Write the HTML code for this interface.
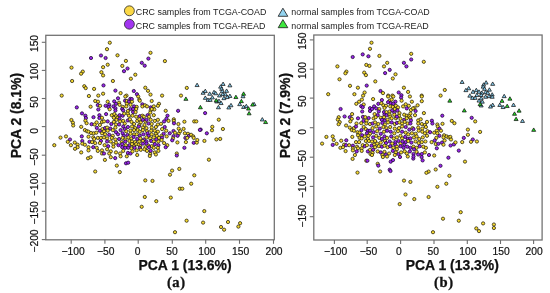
<!DOCTYPE html>
<html><head><meta charset="utf-8"><style>
html,body{margin:0;padding:0;background:#fff;}
svg{display:block;font-family:"Liberation Sans", sans-serif;will-change:transform;filter:blur(0.25px);}
.pts circle{stroke-width:0.8;}
.pts .cy{fill:#f6da30;stroke:#2e2810;}
.pts .cp{fill:#9a26ec;stroke:#220838;}
.pts polygon{stroke:#111;stroke-width:0.75;stroke-linejoin:miter;}
</style></head><body>
<svg width="550" height="293" viewBox="0 0 550 293">
<rect width="550" height="293" fill="#fff"/>
<circle cx="129.4" cy="10.8" r="4.95" fill="#fbd846" stroke="#2a2a2a" stroke-width="0.8"/>
<circle cx="129.4" cy="24.2" r="4.95" fill="#a235f0" stroke="#2a2a2a" stroke-width="0.8"/>
<polygon points="282.9,8.2 278.2,16.3 287.8,16.3" fill="#94d4f0" stroke="#222" stroke-width="0.85" stroke-linejoin="round"/>
<polygon points="282.9,19.6 278.2,27.7 287.8,27.7" fill="#3ee83e" stroke="#222" stroke-width="0.85" stroke-linejoin="round"/>
<text x="135.8" y="15.1" font-size="8.9" fill="#222">CRC samples from TCGA-COAD</text>
<text x="135.8" y="28.5" font-size="8.9" fill="#222">CRC samples from TCGA-READ</text>
<text x="291.3" y="15.1" font-size="8.9" fill="#222">normal samples from TCGA-COAD</text>
<text x="291.3" y="28.5" font-size="8.9" fill="#222">normal samples from TCGA-READ</text>
<rect x="45.8" y="35.3" width="228.50" height="204.50" fill="none" stroke="#6e6e6e" stroke-width="1.25"/>
<line x1="71.20" y1="239.8" x2="71.20" y2="243.80" stroke="#6e6e6e" stroke-width="1.1"/>
<text x="73.20" y="254.8" font-size="10.3" stroke="#111" stroke-width="0.2" text-anchor="middle" fill="#111">−100</text>
<line x1="104.90" y1="239.8" x2="104.90" y2="243.80" stroke="#6e6e6e" stroke-width="1.1"/>
<text x="105.70" y="254.8" font-size="10.3" stroke="#111" stroke-width="0.2" text-anchor="middle" fill="#111">−50</text>
<line x1="138.20" y1="239.8" x2="138.20" y2="243.80" stroke="#6e6e6e" stroke-width="1.1"/>
<text x="137.50" y="254.8" font-size="10.3" stroke="#111" stroke-width="0.2" text-anchor="middle" fill="#111">0</text>
<line x1="172.30" y1="239.8" x2="172.30" y2="243.80" stroke="#6e6e6e" stroke-width="1.1"/>
<text x="172.10" y="254.8" font-size="10.3" stroke="#111" stroke-width="0.2" text-anchor="middle" fill="#111">50</text>
<line x1="205.70" y1="239.8" x2="205.70" y2="243.80" stroke="#6e6e6e" stroke-width="1.1"/>
<text x="206.90" y="254.8" font-size="10.3" stroke="#111" stroke-width="0.2" text-anchor="middle" fill="#111">100</text>
<line x1="239.50" y1="239.8" x2="239.50" y2="243.80" stroke="#6e6e6e" stroke-width="1.1"/>
<text x="240.70" y="254.8" font-size="10.3" stroke="#111" stroke-width="0.2" text-anchor="middle" fill="#111">150</text>
<line x1="273.50" y1="239.8" x2="273.50" y2="243.80" stroke="#6e6e6e" stroke-width="1.1"/>
<text x="274.00" y="254.8" font-size="10.3" stroke="#111" stroke-width="0.2" text-anchor="middle" fill="#111">200</text>
<line x1="41.80" y1="42.30" x2="45.8" y2="42.30" stroke="#6e6e6e" stroke-width="1.1"/>
<text transform="translate(37.80,43.50) rotate(-90)" font-size="10.3" stroke="#111" stroke-width="0.2" text-anchor="middle" fill="#111">150</text>
<line x1="41.80" y1="70.40" x2="45.8" y2="70.40" stroke="#6e6e6e" stroke-width="1.1"/>
<text transform="translate(37.80,71.40) rotate(-90)" font-size="10.3" stroke="#111" stroke-width="0.2" text-anchor="middle" fill="#111">100</text>
<line x1="41.80" y1="98.50" x2="45.8" y2="98.50" stroke="#6e6e6e" stroke-width="1.1"/>
<text transform="translate(37.80,101.90) rotate(-90)" font-size="10.3" stroke="#111" stroke-width="0.2" text-anchor="middle" fill="#111">50</text>
<line x1="41.80" y1="126.60" x2="45.8" y2="126.60" stroke="#6e6e6e" stroke-width="1.1"/>
<text transform="translate(37.80,131.00) rotate(-90)" font-size="10.3" stroke="#111" stroke-width="0.2" text-anchor="middle" fill="#111">0</text>
<line x1="41.80" y1="155.20" x2="45.8" y2="155.20" stroke="#6e6e6e" stroke-width="1.1"/>
<text transform="translate(37.80,157.10) rotate(-90)" font-size="10.3" stroke="#111" stroke-width="0.2" text-anchor="middle" fill="#111">−50</text>
<line x1="41.80" y1="183.30" x2="45.8" y2="183.30" stroke="#6e6e6e" stroke-width="1.1"/>
<text transform="translate(37.80,184.40) rotate(-90)" font-size="10.3" stroke="#111" stroke-width="0.2" text-anchor="middle" fill="#111">−100</text>
<line x1="41.80" y1="211.30" x2="45.8" y2="211.30" stroke="#6e6e6e" stroke-width="1.1"/>
<text transform="translate(37.80,212.90) rotate(-90)" font-size="10.3" stroke="#111" stroke-width="0.2" text-anchor="middle" fill="#111">−150</text>
<line x1="41.80" y1="239.60" x2="45.8" y2="239.60" stroke="#6e6e6e" stroke-width="1.1"/>
<text transform="translate(37.80,241.00) rotate(-90)" font-size="10.3" stroke="#111" stroke-width="0.2" text-anchor="middle" fill="#111">−200</text>
<text x="138.4" y="270.0" font-size="13.95" font-weight="bold" fill="#111" stroke="#111" stroke-width="0.25">PCA 1 (13.6%)</text>
<text transform="translate(21.4,158.3) rotate(-90)" font-size="13.95" font-weight="bold" fill="#111" stroke="#111" stroke-width="0.25">PCA 2 (8.1%)</text>
<text x="166.9" y="286.7" font-size="14.6" font-weight="bold" letter-spacing="0.6" font-family='"Liberation Serif", serif' fill="#111" stroke="#111" stroke-width="0.3">(a)</text>
<rect x="313.8" y="35.0" width="228.30" height="205.00" fill="none" stroke="#6e6e6e" stroke-width="1.25"/>
<line x1="334.40" y1="240.0" x2="334.40" y2="244.00" stroke="#6e6e6e" stroke-width="1.1"/>
<text x="335.70" y="254.8" font-size="10.3" stroke="#111" stroke-width="0.2" text-anchor="middle" fill="#111">−100</text>
<line x1="367.20" y1="240.0" x2="367.20" y2="244.00" stroke="#6e6e6e" stroke-width="1.1"/>
<text x="368.40" y="254.8" font-size="10.3" stroke="#111" stroke-width="0.2" text-anchor="middle" fill="#111">−50</text>
<line x1="400.60" y1="240.0" x2="400.60" y2="244.00" stroke="#6e6e6e" stroke-width="1.1"/>
<text x="398.90" y="254.8" font-size="10.3" stroke="#111" stroke-width="0.2" text-anchor="middle" fill="#111">0</text>
<line x1="434.00" y1="240.0" x2="434.00" y2="244.00" stroke="#6e6e6e" stroke-width="1.1"/>
<text x="433.30" y="254.8" font-size="10.3" stroke="#111" stroke-width="0.2" text-anchor="middle" fill="#111">50</text>
<line x1="467.30" y1="240.0" x2="467.30" y2="244.00" stroke="#6e6e6e" stroke-width="1.1"/>
<text x="467.80" y="254.8" font-size="10.3" stroke="#111" stroke-width="0.2" text-anchor="middle" fill="#111">100</text>
<line x1="500.50" y1="240.0" x2="500.50" y2="244.00" stroke="#6e6e6e" stroke-width="1.1"/>
<text x="501.20" y="254.8" font-size="10.3" stroke="#111" stroke-width="0.2" text-anchor="middle" fill="#111">150</text>
<line x1="533.60" y1="240.0" x2="533.60" y2="244.00" stroke="#6e6e6e" stroke-width="1.1"/>
<text x="534.20" y="254.8" font-size="10.3" stroke="#111" stroke-width="0.2" text-anchor="middle" fill="#111">200</text>
<line x1="309.80" y1="39.90" x2="313.8" y2="39.90" stroke="#6e6e6e" stroke-width="1.1"/>
<text transform="translate(305.80,41.10) rotate(-90)" font-size="10.3" stroke="#111" stroke-width="0.2" text-anchor="middle" fill="#111">150</text>
<line x1="309.80" y1="69.20" x2="313.8" y2="69.20" stroke="#6e6e6e" stroke-width="1.1"/>
<text transform="translate(305.80,70.50) rotate(-90)" font-size="10.3" stroke="#111" stroke-width="0.2" text-anchor="middle" fill="#111">100</text>
<line x1="309.80" y1="98.10" x2="313.8" y2="98.10" stroke="#6e6e6e" stroke-width="1.1"/>
<text transform="translate(305.80,101.20) rotate(-90)" font-size="10.3" stroke="#111" stroke-width="0.2" text-anchor="middle" fill="#111">50</text>
<line x1="309.80" y1="127.70" x2="313.8" y2="127.70" stroke="#6e6e6e" stroke-width="1.1"/>
<text transform="translate(305.80,132.00) rotate(-90)" font-size="10.3" stroke="#111" stroke-width="0.2" text-anchor="middle" fill="#111">0</text>
<line x1="309.80" y1="157.20" x2="313.8" y2="157.20" stroke="#6e6e6e" stroke-width="1.1"/>
<text transform="translate(305.80,158.80) rotate(-90)" font-size="10.3" stroke="#111" stroke-width="0.2" text-anchor="middle" fill="#111">−50</text>
<line x1="309.80" y1="186.40" x2="313.8" y2="186.40" stroke="#6e6e6e" stroke-width="1.1"/>
<text transform="translate(305.80,186.40) rotate(-90)" font-size="10.3" stroke="#111" stroke-width="0.2" text-anchor="middle" fill="#111">−100</text>
<line x1="309.80" y1="216.70" x2="313.8" y2="216.70" stroke="#6e6e6e" stroke-width="1.1"/>
<text transform="translate(305.80,216.00) rotate(-90)" font-size="10.3" stroke="#111" stroke-width="0.2" text-anchor="middle" fill="#111">−150</text>
<text x="405.7" y="270.0" font-size="13.95" font-weight="bold" fill="#111" stroke="#111" stroke-width="0.25">PCA 1 (13.3%)</text>
<text transform="translate(289.5,158.3) rotate(-90)" font-size="13.95" font-weight="bold" fill="#111" stroke="#111" stroke-width="0.25">PCA 2 (7.9%)</text>
<text x="434.09999999999997" y="286.7" font-size="14.6" font-weight="bold" letter-spacing="0.6" font-family='"Liberation Serif", serif' fill="#111" stroke="#111" stroke-width="0.3">(b)</text>
<g class="pts">
<circle class="cy" cx="109.8" cy="42.7" r="1.62"/>
<circle class="cy" cx="107.0" cy="49.2" r="1.62"/>
<circle class="cy" cx="150.5" cy="52.8" r="1.62"/>
<circle class="cp" cx="91.0" cy="58.0" r="1.62"/>
<circle class="cp" cx="101.0" cy="55.5" r="1.62"/>
<circle class="cp" cx="105.6" cy="58.0" r="1.62"/>
<circle class="cy" cx="117.5" cy="55.3" r="1.62"/>
<circle class="cp" cx="148.4" cy="58.6" r="1.62"/>
<circle class="cy" cx="125.9" cy="60.9" r="1.62"/>
<circle class="cp" cx="141.8" cy="62.8" r="1.62"/>
<circle class="cp" cx="144.7" cy="65.7" r="1.62"/>
<circle class="cy" cx="71.5" cy="67.6" r="1.62"/>
<circle class="cy" cx="103.1" cy="67.2" r="1.62"/>
<circle class="cy" cx="107.7" cy="64.7" r="1.62"/>
<circle class="cy" cx="122.3" cy="65.9" r="1.62"/>
<circle class="cp" cx="127.5" cy="68.5" r="1.62"/>
<circle class="cp" cx="124.0" cy="71.2" r="1.62"/>
<circle class="cy" cx="82.8" cy="71.6" r="1.62"/>
<circle class="cy" cx="81.1" cy="73.7" r="1.62"/>
<circle class="cy" cx="101.4" cy="72.2" r="1.62"/>
<circle class="cy" cx="103.1" cy="75.4" r="1.62"/>
<circle class="cy" cx="135.3" cy="74.7" r="1.62"/>
<circle class="cy" cx="130.9" cy="78.7" r="1.62"/>
<circle class="cy" cx="72.1" cy="81.0" r="1.62"/>
<circle class="cy" cx="112.9" cy="81.0" r="1.62"/>
<circle class="cy" cx="84.3" cy="86.2" r="1.62"/>
<circle class="cy" cx="85.7" cy="88.1" r="1.62"/>
<circle class="cy" cx="94.1" cy="88.9" r="1.62"/>
<circle class="cp" cx="103.5" cy="85.4" r="1.62"/>
<circle class="cy" cx="103.1" cy="93.7" r="1.62"/>
<circle class="cp" cx="115.4" cy="90.6" r="1.62"/>
<circle class="cy" cx="120.6" cy="93.1" r="1.62"/>
<circle class="cp" cx="133.8" cy="91.0" r="1.62"/>
<circle class="cp" cx="136.9" cy="94.2" r="1.62"/>
<circle class="cy" cx="145.3" cy="87.7" r="1.62"/>
<circle class="cy" cx="148.0" cy="90.8" r="1.62"/>
<circle class="cy" cx="150.5" cy="94.6" r="1.62"/>
<circle class="cy" cx="61.7" cy="95.6" r="1.62"/>
<circle class="cy" cx="88.9" cy="96.0" r="1.62"/>
<circle class="cy" cx="98.3" cy="95.6" r="1.62"/>
<circle class="cy" cx="126.5" cy="95.6" r="1.62"/>
<circle class="cy" cx="164.9" cy="61.1" r="1.62"/>
<circle class="cy" cx="186.8" cy="87.9" r="1.62"/>
<circle class="cy" cx="181.0" cy="95.6" r="1.62"/>
<circle class="cy" cx="162.1" cy="95.6" r="1.62"/>
<polygon points="197.1,83.15 195.10,86.55 199.10,86.55" fill="#86cdef"/>
<polygon points="223.1,82.05 221.10,85.45 225.10,85.45" fill="#86cdef"/>
<polygon points="229.9,83.45 227.90,86.85 231.90,86.85" fill="#86cdef"/>
<polygon points="220.6,84.75 218.60,88.15 222.60,88.15" fill="#86cdef"/>
<polygon points="221.7,86.95 219.70,90.35 223.70,90.35" fill="#86cdef"/>
<polygon points="226.6,88.95 224.60,92.35 228.60,92.35" fill="#86cdef"/>
<polygon points="222.2,89.35 220.20,92.75 224.20,92.75" fill="#86cdef"/>
<polygon points="203.1,90.85 201.10,94.25 205.10,94.25" fill="#86cdef"/>
<polygon points="205.3,89.15 203.30,92.55 207.30,92.55" fill="#86cdef"/>
<polygon points="209.7,91.85 207.70,95.25 211.70,95.25" fill="#86cdef"/>
<polygon points="214.0,90.25 212.00,93.65 216.00,93.65" fill="#86cdef"/>
<polygon points="215.7,91.35 213.70,94.75 217.70,94.75" fill="#86cdef"/>
<polygon points="219.5,93.55 217.50,96.95 221.50,96.95" fill="#86cdef"/>
<polygon points="222.8,92.25 220.80,95.65 224.80,95.65" fill="#86cdef"/>
<polygon points="225.5,92.45 223.50,95.85 227.50,95.85" fill="#86cdef"/>
<polygon points="229.9,94.05 227.90,97.45 231.90,97.45" fill="#86cdef"/>
<polygon points="227.2,95.15 225.20,98.55 229.20,98.55" fill="#86cdef"/>
<polygon points="223.9,96.25 221.90,99.65 225.90,99.65" fill="#86cdef"/>
<polygon points="212.4,95.55 210.40,98.95 214.40,98.95" fill="#86cdef"/>
<polygon points="205.3,95.95 203.30,99.35 207.30,99.35" fill="#86cdef"/>
<polygon points="208.0,97.95 206.00,101.35 210.00,101.35" fill="#86cdef"/>
<polygon points="210.2,97.95 208.20,101.35 212.20,101.35" fill="#86cdef"/>
<polygon points="216.8,99.55 214.80,102.95 218.80,102.95" fill="#86cdef"/>
<polygon points="219.0,99.05 217.00,102.45 221.00,102.45" fill="#86cdef"/>
<polygon points="221.1,101.15 219.10,104.55 223.10,104.55" fill="#86cdef"/>
<polygon points="218.4,105.35 216.40,108.75 220.40,108.75" fill="#86cdef"/>
<polygon points="228.8,105.55 226.80,108.95 230.80,108.95" fill="#86cdef"/>
<polygon points="231.0,103.35 229.00,106.75 233.00,106.75" fill="#86cdef"/>
<polygon points="239.7,102.25 237.70,105.65 241.70,105.65" fill="#86cdef"/>
<polygon points="243.6,105.05 241.60,108.45 245.60,108.45" fill="#86cdef"/>
<polygon points="246.3,104.25 244.30,107.65 248.30,107.65" fill="#86cdef"/>
<polygon points="243.0,94.35 241.00,97.75 245.00,97.75" fill="#86cdef"/>
<polygon points="254.1,102.25 252.10,105.65 256.10,105.65" fill="#86cdef"/>
<polygon points="262.3,117.55 260.30,120.95 264.30,120.95" fill="#86cdef"/>
<polygon points="235.9,95.15 233.90,98.55 237.90,98.55" fill="#22dd22"/>
<polygon points="243.6,91.85 241.60,95.25 245.60,95.25" fill="#22dd22"/>
<polygon points="216.2,98.45 214.20,101.85 218.20,101.85" fill="#22dd22"/>
<polygon points="241.4,99.25 239.40,102.65 243.40,102.65" fill="#22dd22"/>
<polygon points="200.4,105.35 198.40,108.75 202.40,108.75" fill="#22dd22"/>
<polygon points="248.5,106.65 246.50,110.05 250.50,110.05" fill="#22dd22"/>
<polygon points="252.6,102.65 250.60,106.05 254.60,106.05" fill="#22dd22"/>
<polygon points="249.1,111.45 247.10,114.85 251.10,114.85" fill="#22dd22"/>
<polygon points="265.6,120.15 263.60,123.55 267.60,123.55" fill="#22dd22"/>
<circle class="cy" cx="95.2" cy="101.0" r="1.62"/>
<circle class="cy" cx="98.0" cy="101.7" r="1.62"/>
<circle class="cp" cx="97.8" cy="105.1" r="1.62"/>
<circle class="cy" cx="100.1" cy="105.8" r="1.62"/>
<circle class="cp" cx="76.8" cy="107.4" r="1.62"/>
<circle class="cy" cx="90.6" cy="106.7" r="1.62"/>
<circle class="cp" cx="98.3" cy="109.5" r="1.62"/>
<circle class="cp" cx="82.0" cy="113.4" r="1.62"/>
<circle class="cp" cx="85.4" cy="115.7" r="1.62"/>
<circle class="cp" cx="85.9" cy="118.1" r="1.62"/>
<circle class="cp" cx="93.5" cy="117.2" r="1.62"/>
<circle class="cp" cx="99.4" cy="115.2" r="1.62"/>
<circle class="cp" cx="99.4" cy="118.0" r="1.62"/>
<circle class="cy" cx="102.0" cy="117.8" r="1.62"/>
<circle class="cy" cx="71.4" cy="120.0" r="1.62"/>
<circle class="cy" cx="72.9" cy="122.7" r="1.62"/>
<circle class="cy" cx="85.4" cy="120.7" r="1.62"/>
<circle class="cy" cx="86.6" cy="123.2" r="1.62"/>
<circle class="cp" cx="91.6" cy="124.2" r="1.62"/>
<circle class="cy" cx="94.7" cy="124.5" r="1.62"/>
<circle class="cy" cx="96.6" cy="122.4" r="1.62"/>
<circle class="cy" cx="102.0" cy="121.9" r="1.62"/>
<circle class="cy" cx="99.9" cy="125.0" r="1.62"/>
<circle class="cy" cx="73.2" cy="125.5" r="1.62"/>
<circle class="cp" cx="118.0" cy="98.3" r="1.62"/>
<circle class="cy" cx="125.3" cy="96.5" r="1.62"/>
<circle class="cp" cx="130.3" cy="98.9" r="1.62"/>
<circle class="cp" cx="131.8" cy="99.1" r="1.62"/>
<circle class="cy" cx="138.2" cy="96.5" r="1.62"/>
<circle class="cy" cx="139.3" cy="99.6" r="1.62"/>
<circle class="cy" cx="107.7" cy="101.7" r="1.62"/>
<circle class="cp" cx="114.2" cy="101.4" r="1.62"/>
<circle class="cp" cx="125.1" cy="100.7" r="1.62"/>
<circle class="cy" cx="126.8" cy="101.0" r="1.62"/>
<circle class="cp" cx="128.9" cy="101.7" r="1.62"/>
<circle class="cy" cx="132.0" cy="101.7" r="1.62"/>
<circle class="cy" cx="139.8" cy="100.7" r="1.62"/>
<circle class="cy" cx="151.7" cy="101.0" r="1.62"/>
<circle class="cy" cx="159.0" cy="103.8" r="1.62"/>
<circle class="cp" cx="105.6" cy="105.8" r="1.62"/>
<circle class="cp" cx="109.2" cy="104.8" r="1.62"/>
<circle class="cp" cx="108.7" cy="107.2" r="1.62"/>
<circle class="cp" cx="116.0" cy="103.8" r="1.62"/>
<circle class="cp" cx="113.4" cy="106.4" r="1.62"/>
<circle class="cy" cx="119.1" cy="102.7" r="1.62"/>
<circle class="cy" cx="119.6" cy="104.8" r="1.62"/>
<circle class="cy" cx="122.7" cy="106.9" r="1.62"/>
<circle class="cy" cx="126.8" cy="103.8" r="1.62"/>
<circle class="cy" cx="126.3" cy="106.4" r="1.62"/>
<circle class="cy" cx="130.5" cy="104.8" r="1.62"/>
<circle class="cp" cx="134.1" cy="106.4" r="1.62"/>
<circle class="cy" cx="136.7" cy="106.9" r="1.62"/>
<circle class="cp" cx="142.4" cy="104.3" r="1.62"/>
<circle class="cy" cx="142.4" cy="106.4" r="1.62"/>
<circle class="cy" cx="145.0" cy="105.3" r="1.62"/>
<circle class="cy" cx="147.0" cy="106.4" r="1.62"/>
<circle class="cp" cx="150.7" cy="107.4" r="1.62"/>
<circle class="cy" cx="153.8" cy="106.4" r="1.62"/>
<circle class="cy" cx="157.9" cy="105.8" r="1.62"/>
<circle class="cy" cx="109.7" cy="109.3" r="1.62"/>
<circle class="cp" cx="115.4" cy="108.2" r="1.62"/>
<circle class="cp" cx="115.4" cy="110.5" r="1.62"/>
<circle class="cp" cx="122.2" cy="109.0" r="1.62"/>
<circle class="cp" cx="123.2" cy="110.5" r="1.62"/>
<circle class="cp" cx="130.5" cy="109.0" r="1.62"/>
<circle class="cp" cx="133.1" cy="109.0" r="1.62"/>
<circle class="cy" cx="136.2" cy="109.0" r="1.62"/>
<circle class="cy" cx="127.9" cy="111.0" r="1.62"/>
<circle class="cp" cx="133.1" cy="112.1" r="1.62"/>
<circle class="cy" cx="135.6" cy="112.1" r="1.62"/>
<circle class="cy" cx="150.7" cy="110.5" r="1.62"/>
<circle class="cy" cx="154.3" cy="109.5" r="1.62"/>
<circle class="cy" cx="151.7" cy="109.0" r="1.62"/>
<circle class="cy" cx="150.2" cy="112.6" r="1.62"/>
<circle class="cp" cx="106.1" cy="114.1" r="1.62"/>
<circle class="cy" cx="111.8" cy="115.2" r="1.62"/>
<circle class="cy" cx="114.4" cy="114.1" r="1.62"/>
<circle class="cy" cx="116.0" cy="116.2" r="1.62"/>
<circle class="cp" cx="119.6" cy="115.2" r="1.62"/>
<circle class="cp" cx="122.7" cy="115.7" r="1.62"/>
<circle class="cy" cx="124.2" cy="113.6" r="1.62"/>
<circle class="cy" cx="127.9" cy="113.6" r="1.62"/>
<circle class="cy" cx="128.9" cy="115.7" r="1.62"/>
<circle class="cy" cx="132.5" cy="115.7" r="1.62"/>
<circle class="cy" cx="136.2" cy="116.7" r="1.62"/>
<circle class="cp" cx="139.8" cy="116.2" r="1.62"/>
<circle class="cy" cx="142.4" cy="115.7" r="1.62"/>
<circle class="cy" cx="143.9" cy="116.7" r="1.62"/>
<circle class="cp" cx="147.6" cy="115.2" r="1.62"/>
<circle class="cy" cx="149.1" cy="116.7" r="1.62"/>
<circle class="cy" cx="153.8" cy="115.2" r="1.62"/>
<circle class="cy" cx="113.9" cy="117.8" r="1.62"/>
<circle class="cy" cx="117.5" cy="117.8" r="1.62"/>
<circle class="cp" cx="107.7" cy="121.4" r="1.62"/>
<circle class="cp" cx="111.3" cy="124.0" r="1.62"/>
<circle class="cy" cx="113.9" cy="121.9" r="1.62"/>
<circle class="cy" cx="116.5" cy="119.8" r="1.62"/>
<circle class="cp" cx="119.6" cy="118.8" r="1.62"/>
<circle class="cy" cx="120.1" cy="121.4" r="1.62"/>
<circle class="cy" cx="123.2" cy="120.9" r="1.62"/>
<circle class="cy" cx="124.8" cy="123.5" r="1.62"/>
<circle class="cp" cx="127.9" cy="120.4" r="1.62"/>
<circle class="cy" cx="129.9" cy="119.3" r="1.62"/>
<circle class="cy" cx="131.5" cy="121.9" r="1.62"/>
<circle class="cy" cx="134.1" cy="124.0" r="1.62"/>
<circle class="cy" cx="137.2" cy="120.9" r="1.62"/>
<circle class="cy" cx="139.3" cy="119.3" r="1.62"/>
<circle class="cy" cx="140.8" cy="122.4" r="1.62"/>
<circle class="cp" cx="142.9" cy="119.8" r="1.62"/>
<circle class="cy" cx="145.5" cy="121.4" r="1.62"/>
<circle class="cp" cx="146.5" cy="119.8" r="1.62"/>
<circle class="cp" cx="148.6" cy="123.5" r="1.62"/>
<circle class="cy" cx="150.7" cy="119.8" r="1.62"/>
<circle class="cy" cx="154.8" cy="120.9" r="1.62"/>
<circle class="cy" cx="157.9" cy="119.8" r="1.62"/>
<circle class="cy" cx="157.9" cy="124.5" r="1.62"/>
<circle class="cy" cx="104.0" cy="121.4" r="1.62"/>
<circle class="cy" cx="116.0" cy="124.5" r="1.62"/>
<circle class="cp" cx="119.1" cy="124.5" r="1.62"/>
<circle class="cy" cx="139.3" cy="125.0" r="1.62"/>
<circle class="cy" cx="144.5" cy="125.0" r="1.62"/>
<circle class="cy" cx="151.7" cy="124.0" r="1.62"/>
<polygon points="185.9,96.95 183.90,100.35 187.90,100.35" fill="#22dd22"/>
<circle class="cy" cx="165.7" cy="110.8" r="1.62"/>
<circle class="cp" cx="178.1" cy="110.8" r="1.62"/>
<circle class="cp" cx="205.1" cy="113.1" r="1.62"/>
<circle class="cp" cx="167.5" cy="115.7" r="1.62"/>
<circle class="cp" cx="166.4" cy="118.8" r="1.62"/>
<circle class="cp" cx="164.1" cy="121.4" r="1.62"/>
<circle class="cy" cx="168.5" cy="120.9" r="1.62"/>
<circle class="cy" cx="173.8" cy="119.3" r="1.62"/>
<circle class="cy" cx="173.8" cy="120.9" r="1.62"/>
<circle class="cp" cx="174.0" cy="123.3" r="1.62"/>
<circle class="cy" cx="178.4" cy="124.0" r="1.62"/>
<circle class="cy" cx="184.4" cy="121.7" r="1.62"/>
<circle class="cy" cx="194.2" cy="121.4" r="1.62"/>
<circle class="cy" cx="196.3" cy="121.4" r="1.62"/>
<circle class="cy" cx="161.0" cy="123.8" r="1.62"/>
<circle class="cy" cx="218.8" cy="119.7" r="1.62"/>
<circle class="cy" cx="212.3" cy="126.8" r="1.62"/>
<circle class="cy" cx="212.0" cy="130.3" r="1.62"/>
<circle class="cy" cx="222.9" cy="129.0" r="1.62"/>
<circle class="cp" cx="206.8" cy="133.3" r="1.62"/>
<circle class="cp" cx="200.7" cy="129.6" r="1.62"/>
<circle class="cy" cx="204.4" cy="140.9" r="1.62"/>
<circle class="cy" cx="216.4" cy="139.4" r="1.62"/>
<circle class="cy" cx="220.2" cy="138.9" r="1.62"/>
<circle class="cy" cx="81.2" cy="126.8" r="1.62"/>
<circle class="cp" cx="96.8" cy="127.9" r="1.62"/>
<circle class="cp" cx="99.9" cy="130.7" r="1.62"/>
<circle class="cy" cx="102.5" cy="129.1" r="1.62"/>
<circle class="cy" cx="84.9" cy="130.1" r="1.62"/>
<circle class="cy" cx="86.9" cy="131.2" r="1.62"/>
<circle class="cy" cx="88.5" cy="131.7" r="1.62"/>
<circle class="cy" cx="91.1" cy="133.0" r="1.62"/>
<circle class="cy" cx="93.7" cy="133.3" r="1.62"/>
<circle class="cy" cx="96.3" cy="132.7" r="1.62"/>
<circle class="cy" cx="102.0" cy="133.3" r="1.62"/>
<circle class="cy" cx="60.5" cy="137.6" r="1.62"/>
<circle class="cy" cx="66.0" cy="136.4" r="1.62"/>
<circle class="cp" cx="70.0" cy="139.5" r="1.62"/>
<circle class="cy" cx="67.8" cy="141.8" r="1.62"/>
<circle class="cp" cx="81.8" cy="136.4" r="1.62"/>
<circle class="cy" cx="88.5" cy="136.7" r="1.62"/>
<circle class="cy" cx="93.2" cy="137.4" r="1.62"/>
<circle class="cy" cx="94.2" cy="139.0" r="1.62"/>
<circle class="cy" cx="97.8" cy="137.9" r="1.62"/>
<circle class="cy" cx="100.9" cy="137.9" r="1.62"/>
<circle class="cp" cx="82.3" cy="141.0" r="1.62"/>
<circle class="cp" cx="89.5" cy="141.8" r="1.62"/>
<circle class="cy" cx="92.1" cy="142.1" r="1.62"/>
<circle class="cy" cx="95.2" cy="143.1" r="1.62"/>
<circle class="cp" cx="100.9" cy="141.0" r="1.62"/>
<circle class="cy" cx="99.9" cy="143.1" r="1.62"/>
<circle class="cy" cx="54.3" cy="145.2" r="1.62"/>
<circle class="cy" cx="70.9" cy="145.2" r="1.62"/>
<circle class="cy" cx="74.8" cy="142.6" r="1.62"/>
<circle class="cy" cx="77.6" cy="144.7" r="1.62"/>
<circle class="cy" cx="82.3" cy="143.6" r="1.62"/>
<circle class="cy" cx="84.9" cy="144.7" r="1.62"/>
<circle class="cy" cx="88.5" cy="147.2" r="1.62"/>
<circle class="cp" cx="93.2" cy="147.2" r="1.62"/>
<circle class="cy" cx="96.8" cy="147.8" r="1.62"/>
<circle class="cy" cx="77.6" cy="147.2" r="1.62"/>
<circle class="cy" cx="75.0" cy="148.8" r="1.62"/>
<circle class="cy" cx="88.5" cy="150.4" r="1.62"/>
<circle class="cy" cx="97.8" cy="150.9" r="1.62"/>
<circle class="cy" cx="102.0" cy="150.4" r="1.62"/>
<circle class="cy" cx="81.2" cy="152.4" r="1.62"/>
<circle class="cy" cx="102.0" cy="153.5" r="1.62"/>
<circle class="cp" cx="105.1" cy="128.1" r="1.62"/>
<circle class="cp" cx="110.3" cy="128.6" r="1.62"/>
<circle class="cy" cx="115.4" cy="127.6" r="1.62"/>
<circle class="cp" cx="123.2" cy="126.5" r="1.62"/>
<circle class="cp" cx="127.9" cy="127.0" r="1.62"/>
<circle class="cy" cx="132.0" cy="126.5" r="1.62"/>
<circle class="cy" cx="135.1" cy="128.1" r="1.62"/>
<circle class="cp" cx="138.8" cy="126.5" r="1.62"/>
<circle class="cy" cx="142.9" cy="127.6" r="1.62"/>
<circle class="cy" cx="146.5" cy="128.1" r="1.62"/>
<circle class="cy" cx="151.7" cy="127.6" r="1.62"/>
<circle class="cy" cx="155.9" cy="127.0" r="1.62"/>
<circle class="cy" cx="107.1" cy="127.6" r="1.62"/>
<circle class="cy" cx="112.8" cy="130.1" r="1.62"/>
<circle class="cy" cx="104.0" cy="131.2" r="1.62"/>
<circle class="cy" cx="107.7" cy="130.7" r="1.62"/>
<circle class="cp" cx="116.0" cy="132.2" r="1.62"/>
<circle class="cp" cx="120.6" cy="130.1" r="1.62"/>
<circle class="cp" cx="124.8" cy="129.1" r="1.62"/>
<circle class="cy" cx="126.3" cy="131.2" r="1.62"/>
<circle class="cy" cx="130.5" cy="130.7" r="1.62"/>
<circle class="cy" cx="134.1" cy="130.1" r="1.62"/>
<circle class="cy" cx="137.7" cy="130.1" r="1.62"/>
<circle class="cy" cx="139.8" cy="131.7" r="1.62"/>
<circle class="cy" cx="142.9" cy="130.1" r="1.62"/>
<circle class="cy" cx="147.0" cy="131.2" r="1.62"/>
<circle class="cy" cx="151.2" cy="130.7" r="1.62"/>
<circle class="cy" cx="154.8" cy="130.7" r="1.62"/>
<circle class="cy" cx="157.9" cy="131.7" r="1.62"/>
<circle class="cp" cx="109.2" cy="134.8" r="1.62"/>
<circle class="cy" cx="105.1" cy="134.3" r="1.62"/>
<circle class="cy" cx="112.8" cy="135.8" r="1.62"/>
<circle class="cp" cx="118.0" cy="134.3" r="1.62"/>
<circle class="cp" cx="122.7" cy="133.3" r="1.62"/>
<circle class="cp" cx="123.7" cy="135.8" r="1.62"/>
<circle class="cp" cx="127.4" cy="135.1" r="1.62"/>
<circle class="cy" cx="130.5" cy="133.8" r="1.62"/>
<circle class="cy" cx="134.1" cy="134.3" r="1.62"/>
<circle class="cy" cx="136.7" cy="134.3" r="1.62"/>
<circle class="cp" cx="139.8" cy="135.8" r="1.62"/>
<circle class="cp" cx="143.4" cy="134.3" r="1.62"/>
<circle class="cp" cx="147.6" cy="133.3" r="1.62"/>
<circle class="cp" cx="148.6" cy="135.8" r="1.62"/>
<circle class="cy" cx="151.7" cy="134.3" r="1.62"/>
<circle class="cy" cx="155.9" cy="133.8" r="1.62"/>
<circle class="cy" cx="156.9" cy="135.8" r="1.62"/>
<circle class="cy" cx="104.0" cy="137.4" r="1.62"/>
<circle class="cy" cx="107.1" cy="138.4" r="1.62"/>
<circle class="cy" cx="111.8" cy="137.9" r="1.62"/>
<circle class="cy" cx="115.4" cy="139.5" r="1.62"/>
<circle class="cp" cx="119.1" cy="139.0" r="1.62"/>
<circle class="cy" cx="122.7" cy="137.9" r="1.62"/>
<circle class="cy" cx="125.3" cy="139.5" r="1.62"/>
<circle class="cy" cx="128.4" cy="137.4" r="1.62"/>
<circle class="cy" cx="131.5" cy="138.4" r="1.62"/>
<circle class="cp" cx="133.6" cy="136.9" r="1.62"/>
<circle class="cp" cx="137.2" cy="139.0" r="1.62"/>
<circle class="cy" cx="140.3" cy="138.4" r="1.62"/>
<circle class="cp" cx="143.9" cy="139.5" r="1.62"/>
<circle class="cy" cx="146.5" cy="137.4" r="1.62"/>
<circle class="cy" cx="150.2" cy="138.4" r="1.62"/>
<circle class="cy" cx="153.8" cy="137.4" r="1.62"/>
<circle class="cp" cx="156.4" cy="139.5" r="1.62"/>
<circle class="cy" cx="159.0" cy="137.9" r="1.62"/>
<circle class="cp" cx="107.1" cy="141.5" r="1.62"/>
<circle class="cy" cx="110.8" cy="141.5" r="1.62"/>
<circle class="cy" cx="116.0" cy="142.6" r="1.62"/>
<circle class="cy" cx="121.7" cy="142.1" r="1.62"/>
<circle class="cp" cx="125.3" cy="141.5" r="1.62"/>
<circle class="cy" cx="129.4" cy="141.0" r="1.62"/>
<circle class="cy" cx="132.0" cy="141.5" r="1.62"/>
<circle class="cy" cx="135.1" cy="142.1" r="1.62"/>
<circle class="cy" cx="139.3" cy="141.5" r="1.62"/>
<circle class="cy" cx="142.9" cy="141.0" r="1.62"/>
<circle class="cp" cx="146.5" cy="141.5" r="1.62"/>
<circle class="cp" cx="151.2" cy="141.0" r="1.62"/>
<circle class="cy" cx="153.8" cy="141.5" r="1.62"/>
<circle class="cy" cx="158.4" cy="141.5" r="1.62"/>
<circle class="cy" cx="104.6" cy="145.2" r="1.62"/>
<circle class="cp" cx="108.2" cy="146.2" r="1.62"/>
<circle class="cy" cx="113.4" cy="144.1" r="1.62"/>
<circle class="cy" cx="113.4" cy="146.7" r="1.62"/>
<circle class="cp" cx="118.5" cy="145.2" r="1.62"/>
<circle class="cp" cx="122.2" cy="144.1" r="1.62"/>
<circle class="cp" cx="122.2" cy="147.2" r="1.62"/>
<circle class="cy" cx="125.8" cy="145.2" r="1.62"/>
<circle class="cp" cx="129.4" cy="145.2" r="1.62"/>
<circle class="cy" cx="132.0" cy="144.1" r="1.62"/>
<circle class="cy" cx="134.1" cy="146.2" r="1.62"/>
<circle class="cy" cx="136.2" cy="144.1" r="1.62"/>
<circle class="cy" cx="138.8" cy="144.7" r="1.62"/>
<circle class="cy" cx="140.3" cy="146.2" r="1.62"/>
<circle class="cp" cx="142.9" cy="143.6" r="1.62"/>
<circle class="cp" cx="146.5" cy="143.6" r="1.62"/>
<circle class="cy" cx="148.6" cy="145.7" r="1.62"/>
<circle class="cy" cx="151.7" cy="146.2" r="1.62"/>
<circle class="cp" cx="154.8" cy="144.1" r="1.62"/>
<circle class="cp" cx="158.4" cy="145.2" r="1.62"/>
<circle class="cy" cx="157.9" cy="147.8" r="1.62"/>
<circle class="cp" cx="125.3" cy="147.8" r="1.62"/>
<circle class="cp" cx="128.4" cy="147.8" r="1.62"/>
<circle class="cy" cx="131.5" cy="148.3" r="1.62"/>
<circle class="cp" cx="134.6" cy="147.8" r="1.62"/>
<circle class="cp" cx="139.8" cy="147.8" r="1.62"/>
<circle class="cy" cx="145.5" cy="147.2" r="1.62"/>
<circle class="cp" cx="149.1" cy="147.2" r="1.62"/>
<circle class="cy" cx="153.8" cy="147.8" r="1.62"/>
<circle class="cy" cx="107.1" cy="149.3" r="1.62"/>
<circle class="cy" cx="110.8" cy="151.4" r="1.62"/>
<circle class="cy" cx="109.2" cy="153.5" r="1.62"/>
<circle class="cp" cx="104.0" cy="153.5" r="1.62"/>
<circle class="cy" cx="116.0" cy="152.4" r="1.62"/>
<circle class="cy" cx="120.1" cy="153.5" r="1.62"/>
<circle class="cy" cx="123.2" cy="150.9" r="1.62"/>
<circle class="cp" cx="127.9" cy="152.9" r="1.62"/>
<circle class="cp" cx="130.5" cy="153.5" r="1.62"/>
<circle class="cy" cx="132.5" cy="151.4" r="1.62"/>
<circle class="cy" cx="136.7" cy="150.4" r="1.62"/>
<circle class="cy" cx="140.8" cy="149.8" r="1.62"/>
<circle class="cy" cx="144.5" cy="149.3" r="1.62"/>
<circle class="cy" cx="147.0" cy="150.9" r="1.62"/>
<circle class="cp" cx="150.7" cy="150.9" r="1.62"/>
<circle class="cy" cx="154.8" cy="152.4" r="1.62"/>
<circle class="cy" cx="158.4" cy="150.9" r="1.62"/>
<circle class="cy" cx="150.2" cy="154.0" r="1.62"/>
<circle class="cy" cx="155.9" cy="154.5" r="1.62"/>
<circle class="cy" cx="137.2" cy="155.0" r="1.62"/>
<circle class="cp" cx="164.7" cy="127.0" r="1.62"/>
<circle class="cy" cx="162.1" cy="129.1" r="1.62"/>
<circle class="cy" cx="166.2" cy="130.7" r="1.62"/>
<circle class="cp" cx="163.6" cy="133.8" r="1.62"/>
<circle class="cy" cx="161.6" cy="135.8" r="1.62"/>
<circle class="cp" cx="162.1" cy="137.6" r="1.62"/>
<circle class="cy" cx="161.6" cy="140.0" r="1.62"/>
<circle class="cy" cx="166.7" cy="136.4" r="1.62"/>
<circle class="cp" cx="169.8" cy="133.3" r="1.62"/>
<circle class="cp" cx="173.5" cy="131.0" r="1.62"/>
<circle class="cy" cx="175.0" cy="132.7" r="1.62"/>
<circle class="cy" cx="178.7" cy="128.6" r="1.62"/>
<circle class="cy" cx="180.2" cy="131.2" r="1.62"/>
<circle class="cy" cx="178.7" cy="133.8" r="1.62"/>
<circle class="cp" cx="177.6" cy="135.8" r="1.62"/>
<circle class="cp" cx="173.5" cy="136.2" r="1.62"/>
<circle class="cy" cx="173.0" cy="138.4" r="1.62"/>
<circle class="cp" cx="172.2" cy="140.3" r="1.62"/>
<circle class="cy" cx="183.6" cy="128.9" r="1.62"/>
<circle class="cy" cx="184.9" cy="133.3" r="1.62"/>
<circle class="cy" cx="188.0" cy="133.8" r="1.62"/>
<circle class="cp" cx="189.0" cy="135.8" r="1.62"/>
<circle class="cy" cx="191.1" cy="134.8" r="1.62"/>
<circle class="cy" cx="193.2" cy="136.4" r="1.62"/>
<circle class="cy" cx="193.7" cy="137.9" r="1.62"/>
<circle class="cp" cx="185.4" cy="137.9" r="1.62"/>
<circle class="cy" cx="187.2" cy="137.9" r="1.62"/>
<circle class="cy" cx="185.9" cy="142.1" r="1.62"/>
<circle class="cy" cx="177.4" cy="142.4" r="1.62"/>
<circle class="cp" cx="193.7" cy="142.8" r="1.62"/>
<circle class="cy" cx="196.8" cy="142.6" r="1.62"/>
<circle class="cy" cx="197.3" cy="140.0" r="1.62"/>
<circle class="cp" cx="199.9" cy="129.9" r="1.62"/>
<circle class="cy" cx="164.1" cy="143.1" r="1.62"/>
<circle class="cy" cx="167.3" cy="145.2" r="1.62"/>
<circle class="cp" cx="165.7" cy="147.2" r="1.62"/>
<circle class="cp" cx="184.4" cy="147.8" r="1.62"/>
<circle class="cy" cx="176.8" cy="153.5" r="1.62"/>
<circle class="cp" cx="176.8" cy="155.5" r="1.62"/>
<circle class="cy" cx="88.0" cy="158.3" r="1.62"/>
<circle class="cy" cx="90.6" cy="157.2" r="1.62"/>
<circle class="cy" cx="95.2" cy="171.5" r="1.62"/>
<circle class="cy" cx="104.9" cy="159.9" r="1.62"/>
<circle class="cy" cx="110.8" cy="157.2" r="1.62"/>
<circle class="cp" cx="115.2" cy="158.1" r="1.62"/>
<circle class="cy" cx="120.6" cy="156.3" r="1.62"/>
<circle class="cy" cx="126.8" cy="156.3" r="1.62"/>
<circle class="cy" cx="116.8" cy="165.6" r="1.62"/>
<circle class="cp" cx="126.0" cy="163.3" r="1.62"/>
<circle class="cp" cx="128.2" cy="162.7" r="1.62"/>
<circle class="cy" cx="119.8" cy="172.1" r="1.62"/>
<circle class="cy" cx="145.3" cy="180.4" r="1.62"/>
<circle class="cy" cx="152.5" cy="180.9" r="1.62"/>
<circle class="cy" cx="149.8" cy="156.0" r="1.62"/>
<circle class="cy" cx="208.9" cy="159.7" r="1.62"/>
<circle class="cy" cx="172.1" cy="170.6" r="1.62"/>
<circle class="cy" cx="179.3" cy="168.9" r="1.62"/>
<circle class="cy" cx="170.0" cy="174.7" r="1.62"/>
<circle class="cy" cx="194.3" cy="175.3" r="1.62"/>
<circle class="cy" cx="191.2" cy="183.7" r="1.62"/>
<circle class="cy" cx="179.8" cy="188.7" r="1.62"/>
<circle class="cy" cx="182.3" cy="188.7" r="1.62"/>
<circle class="cy" cx="170.8" cy="197.6" r="1.62"/>
<circle class="cy" cx="204.3" cy="211.1" r="1.62"/>
<circle class="cy" cx="144.8" cy="197.0" r="1.62"/>
<circle class="cy" cx="141.7" cy="206.8" r="1.62"/>
<circle class="cy" cx="156.3" cy="201.2" r="1.62"/>
<circle class="cy" cx="186.6" cy="220.7" r="1.62"/>
<circle class="cy" cx="203.1" cy="222.6" r="1.62"/>
<circle class="cy" cx="175.0" cy="232.2" r="1.62"/>
<circle class="cy" cx="221.0" cy="227.0" r="1.62"/>
<circle class="cy" cx="224.1" cy="229.7" r="1.62"/>
<circle class="cy" cx="228.0" cy="222.0" r="1.62"/>
<circle class="cy" cx="240.1" cy="223.2" r="1.62"/>
<circle class="cy" cx="238.4" cy="226.6" r="1.62"/>
<circle class="cy" cx="371.5" cy="42.7" r="1.62"/>
<circle class="cy" cx="370.0" cy="48.8" r="1.62"/>
<circle class="cp" cx="352.7" cy="57.0" r="1.62"/>
<circle class="cp" cx="362.7" cy="54.4" r="1.62"/>
<circle class="cp" cx="368.4" cy="56.3" r="1.62"/>
<circle class="cy" cx="379.4" cy="55.9" r="1.62"/>
<circle class="cy" cx="411.2" cy="53.8" r="1.62"/>
<circle class="cp" cx="411.2" cy="59.5" r="1.62"/>
<circle class="cy" cx="423.8" cy="61.8" r="1.62"/>
<circle class="cy" cx="387.2" cy="62.8" r="1.62"/>
<circle class="cp" cx="403.9" cy="62.8" r="1.62"/>
<circle class="cp" cx="406.4" cy="66.4" r="1.62"/>
<circle class="cy" cx="337.4" cy="66.4" r="1.62"/>
<circle class="cy" cx="366.3" cy="64.9" r="1.62"/>
<circle class="cy" cx="369.4" cy="65.9" r="1.62"/>
<circle class="cy" cx="384.0" cy="66.4" r="1.62"/>
<circle class="cp" cx="389.7" cy="69.9" r="1.62"/>
<circle class="cp" cx="385.1" cy="73.1" r="1.62"/>
<circle class="cy" cx="346.4" cy="71.6" r="1.62"/>
<circle class="cy" cx="345.4" cy="73.3" r="1.62"/>
<circle class="cy" cx="364.2" cy="72.6" r="1.62"/>
<circle class="cy" cx="365.9" cy="75.1" r="1.62"/>
<circle class="cy" cx="395.5" cy="74.3" r="1.62"/>
<circle class="cy" cx="392.8" cy="78.5" r="1.62"/>
<circle class="cy" cx="339.5" cy="79.3" r="1.62"/>
<circle class="cy" cx="375.3" cy="81.4" r="1.62"/>
<circle class="cy" cx="350.0" cy="85.8" r="1.62"/>
<circle class="cy" cx="357.9" cy="87.7" r="1.62"/>
<circle class="cp" cx="366.7" cy="85.6" r="1.62"/>
<circle class="cy" cx="403.9" cy="87.7" r="1.62"/>
<circle class="cy" cx="408.1" cy="91.9" r="1.62"/>
<circle class="cy" cx="328.2" cy="94.2" r="1.62"/>
<circle class="cy" cx="354.4" cy="94.2" r="1.62"/>
<circle class="cy" cx="364.6" cy="92.5" r="1.62"/>
<circle class="cy" cx="363.1" cy="95.6" r="1.62"/>
<circle class="cp" cx="380.5" cy="91.0" r="1.62"/>
<circle class="cy" cx="383.0" cy="93.1" r="1.62"/>
<circle class="cy" cx="388.2" cy="95.6" r="1.62"/>
<circle class="cy" cx="392.4" cy="95.6" r="1.62"/>
<circle class="cp" cx="398.7" cy="92.5" r="1.62"/>
<circle class="cp" cx="401.4" cy="95.2" r="1.62"/>
<circle class="cy" cx="421.7" cy="95.6" r="1.62"/>
<circle class="cy" cx="444.8" cy="90.0" r="1.62"/>
<circle class="cy" cx="440.6" cy="95.6" r="1.62"/>
<polygon points="462.1,80.05 460.10,83.45 464.10,83.45" fill="#86cdef"/>
<polygon points="486.1,80.65 484.10,84.05 488.10,84.05" fill="#86cdef"/>
<polygon points="492.7,81.95 490.70,85.35 494.70,85.35" fill="#86cdef"/>
<polygon points="483.6,82.75 481.60,86.15 485.60,86.15" fill="#86cdef"/>
<polygon points="483.2,84.75 481.20,88.15 485.20,88.15" fill="#86cdef"/>
<polygon points="484.5,86.95 482.50,90.35 486.50,90.35" fill="#86cdef"/>
<polygon points="489.4,87.75 487.40,91.15 491.40,91.15" fill="#86cdef"/>
<polygon points="468.7,86.35 466.70,89.75 470.70,89.75" fill="#86cdef"/>
<polygon points="465.9,88.25 463.90,91.65 467.90,91.65" fill="#86cdef"/>
<polygon points="473.0,89.85 471.00,93.25 475.00,93.25" fill="#86cdef"/>
<polygon points="476.3,88.25 474.30,91.65 478.30,91.65" fill="#86cdef"/>
<polygon points="479.0,89.85 477.00,93.25 481.00,93.25" fill="#86cdef"/>
<polygon points="481.8,90.95 479.80,94.35 483.80,94.35" fill="#86cdef"/>
<polygon points="485.6,90.25 483.60,93.65 487.60,93.65" fill="#86cdef"/>
<polygon points="487.8,90.95 485.80,94.35 489.80,94.35" fill="#86cdef"/>
<polygon points="492.2,92.65 490.20,96.05 494.20,96.05" fill="#86cdef"/>
<polygon points="492.2,94.85 490.20,98.25 494.20,98.25" fill="#86cdef"/>
<polygon points="488.9,94.25 486.90,97.65 490.90,97.65" fill="#86cdef"/>
<polygon points="485.6,94.85 483.60,98.25 487.60,98.25" fill="#86cdef"/>
<polygon points="481.2,93.15 479.20,96.55 483.20,96.55" fill="#86cdef"/>
<polygon points="476.9,93.15 474.90,96.55 478.90,96.55" fill="#86cdef"/>
<polygon points="469.8,93.75 467.80,97.15 471.80,97.15" fill="#86cdef"/>
<polygon points="472.5,95.95 470.50,99.35 474.50,99.35" fill="#86cdef"/>
<polygon points="475.2,95.95 473.20,99.35 477.20,99.35" fill="#86cdef"/>
<polygon points="481.2,96.45 479.20,99.85 483.20,99.85" fill="#86cdef"/>
<polygon points="479.0,98.65 477.00,102.05 481.00,102.05" fill="#86cdef"/>
<polygon points="482.3,99.75 480.30,103.15 484.30,103.15" fill="#86cdef"/>
<polygon points="481.2,103.55 479.20,106.95 483.20,106.95" fill="#86cdef"/>
<polygon points="492.7,103.05 490.70,106.45 494.70,106.45" fill="#86cdef"/>
<polygon points="490.5,104.65 488.50,108.05 492.50,108.05" fill="#86cdef"/>
<polygon points="499.8,103.05 497.80,106.45 501.80,106.45" fill="#86cdef"/>
<polygon points="504.2,94.25 502.20,97.65 506.20,97.65" fill="#86cdef"/>
<polygon points="503.1,105.15 501.10,108.55 505.10,108.55" fill="#86cdef"/>
<polygon points="513.5,103.05 511.50,106.45 515.50,106.45" fill="#86cdef"/>
<polygon points="522.5,119.05 520.50,122.45 524.50,122.45" fill="#86cdef"/>
<polygon points="480.1,102.25 478.10,105.65 482.10,105.65" fill="#22dd22"/>
<polygon points="502.0,98.95 500.00,102.35 504.00,102.35" fill="#22dd22"/>
<polygon points="509.9,96.75 507.90,100.15 511.90,100.15" fill="#22dd22"/>
<polygon points="507.2,104.15 505.20,107.55 509.20,107.55" fill="#22dd22"/>
<polygon points="519.1,108.75 517.10,112.15 521.10,112.15" fill="#22dd22"/>
<polygon points="514.5,111.85 512.50,115.25 516.50,115.25" fill="#22dd22"/>
<polygon points="516.1,117.15 514.10,120.55 518.10,120.55" fill="#22dd22"/>
<polygon points="533.7,127.95 531.70,131.35 535.70,131.35" fill="#22dd22"/>
<polygon points="449.8,98.75 447.80,102.15 451.80,102.15" fill="#22dd22"/>
<polygon points="464.3,108.55 462.30,111.95 466.30,111.95" fill="#22dd22"/>
<circle class="cy" cx="361.9" cy="99.6" r="1.62"/>
<circle class="cy" cx="359.1" cy="101.7" r="1.62"/>
<circle class="cy" cx="356.3" cy="103.8" r="1.62"/>
<circle class="cy" cx="363.7" cy="104.5" r="1.62"/>
<circle class="cp" cx="361.2" cy="106.2" r="1.62"/>
<circle class="cp" cx="362.7" cy="107.2" r="1.62"/>
<circle class="cp" cx="370.0" cy="108.2" r="1.62"/>
<circle class="cp" cx="370.0" cy="111.0" r="1.62"/>
<circle class="cp" cx="362.2" cy="111.5" r="1.62"/>
<circle class="cp" cx="340.6" cy="109.0" r="1.62"/>
<circle class="cp" cx="344.6" cy="116.5" r="1.62"/>
<circle class="cp" cx="349.8" cy="117.2" r="1.62"/>
<circle class="cy" cx="352.1" cy="114.1" r="1.62"/>
<circle class="cy" cx="351.8" cy="118.8" r="1.62"/>
<circle class="cy" cx="350.3" cy="121.4" r="1.62"/>
<circle class="cy" cx="338.7" cy="117.2" r="1.62"/>
<circle class="cy" cx="337.8" cy="119.6" r="1.62"/>
<circle class="cy" cx="339.7" cy="122.1" r="1.62"/>
<circle class="cy" cx="338.6" cy="124.2" r="1.62"/>
<circle class="cp" cx="358.0" cy="118.3" r="1.62"/>
<circle class="cp" cx="362.9" cy="116.9" r="1.62"/>
<circle class="cy" cx="365.3" cy="117.2" r="1.62"/>
<circle class="cp" cx="368.7" cy="118.0" r="1.62"/>
<circle class="cp" cx="363.5" cy="120.9" r="1.62"/>
<circle class="cy" cx="366.6" cy="120.7" r="1.62"/>
<circle class="cy" cx="361.2" cy="123.2" r="1.62"/>
<circle class="cy" cx="356.5" cy="123.5" r="1.62"/>
<circle class="cy" cx="346.1" cy="125.5" r="1.62"/>
<circle class="cy" cx="366.3" cy="123.5" r="1.62"/>
<circle class="cy" cx="370.0" cy="124.0" r="1.62"/>
<circle class="cy" cx="373.1" cy="99.1" r="1.62"/>
<circle class="cp" cx="381.9" cy="100.1" r="1.62"/>
<circle class="cy" cx="388.1" cy="96.5" r="1.62"/>
<circle class="cy" cx="389.7" cy="100.7" r="1.62"/>
<circle class="cy" cx="391.7" cy="99.6" r="1.62"/>
<circle class="cy" cx="393.3" cy="96.5" r="1.62"/>
<circle class="cp" cx="395.4" cy="101.7" r="1.62"/>
<circle class="cp" cx="401.1" cy="97.6" r="1.62"/>
<circle class="cy" cx="401.6" cy="100.7" r="1.62"/>
<circle class="cy" cx="409.9" cy="96.5" r="1.62"/>
<circle class="cy" cx="411.9" cy="101.7" r="1.62"/>
<circle class="cy" cx="421.8" cy="96.5" r="1.62"/>
<circle class="cy" cx="421.8" cy="101.2" r="1.62"/>
<circle class="cp" cx="378.3" cy="103.8" r="1.62"/>
<circle class="cp" cx="374.1" cy="106.4" r="1.62"/>
<circle class="cy" cx="381.4" cy="103.3" r="1.62"/>
<circle class="cy" cx="383.4" cy="105.3" r="1.62"/>
<circle class="cy" cx="386.0" cy="105.8" r="1.62"/>
<circle class="cp" cx="388.1" cy="102.2" r="1.62"/>
<circle class="cp" cx="390.7" cy="103.3" r="1.62"/>
<circle class="cp" cx="393.3" cy="103.8" r="1.62"/>
<circle class="cy" cx="390.2" cy="106.4" r="1.62"/>
<circle class="cy" cx="392.8" cy="106.9" r="1.62"/>
<circle class="cy" cx="395.9" cy="105.8" r="1.62"/>
<circle class="cy" cx="398.0" cy="107.4" r="1.62"/>
<circle class="cy" cx="403.1" cy="106.4" r="1.62"/>
<circle class="cy" cx="405.7" cy="104.3" r="1.62"/>
<circle class="cy" cx="408.8" cy="105.8" r="1.62"/>
<circle class="cy" cx="417.6" cy="105.3" r="1.62"/>
<circle class="cp" cx="372.0" cy="109.0" r="1.62"/>
<circle class="cp" cx="376.2" cy="108.4" r="1.62"/>
<circle class="cy" cx="379.3" cy="109.0" r="1.62"/>
<circle class="cy" cx="384.5" cy="107.9" r="1.62"/>
<circle class="cp" cx="406.8" cy="108.4" r="1.62"/>
<circle class="cy" cx="410.9" cy="110.0" r="1.62"/>
<circle class="cy" cx="414.5" cy="107.9" r="1.62"/>
<circle class="cp" cx="378.8" cy="111.5" r="1.62"/>
<circle class="cp" cx="384.0" cy="112.1" r="1.62"/>
<circle class="cy" cx="386.5" cy="112.1" r="1.62"/>
<circle class="cy" cx="389.7" cy="111.5" r="1.62"/>
<circle class="cp" cx="392.2" cy="110.5" r="1.62"/>
<circle class="cy" cx="394.8" cy="109.0" r="1.62"/>
<circle class="cp" cx="397.4" cy="110.5" r="1.62"/>
<circle class="cp" cx="394.3" cy="112.6" r="1.62"/>
<circle class="cy" cx="399.5" cy="113.1" r="1.62"/>
<circle class="cy" cx="413.0" cy="108.4" r="1.62"/>
<circle class="cp" cx="415.6" cy="111.0" r="1.62"/>
<circle class="cy" cx="423.9" cy="113.1" r="1.62"/>
<circle class="cy" cx="374.6" cy="114.1" r="1.62"/>
<circle class="cp" cx="377.7" cy="115.2" r="1.62"/>
<circle class="cp" cx="384.5" cy="114.7" r="1.62"/>
<circle class="cp" cx="386.5" cy="115.2" r="1.62"/>
<circle class="cy" cx="389.7" cy="114.7" r="1.62"/>
<circle class="cy" cx="394.3" cy="114.7" r="1.62"/>
<circle class="cy" cx="399.0" cy="115.7" r="1.62"/>
<circle class="cy" cx="404.2" cy="114.7" r="1.62"/>
<circle class="cy" cx="406.8" cy="115.7" r="1.62"/>
<circle class="cy" cx="410.4" cy="113.6" r="1.62"/>
<circle class="cy" cx="415.0" cy="115.2" r="1.62"/>
<circle class="cy" cx="409.3" cy="116.2" r="1.62"/>
<circle class="cy" cx="373.6" cy="118.3" r="1.62"/>
<circle class="cy" cx="375.7" cy="117.2" r="1.62"/>
<circle class="cy" cx="380.8" cy="117.8" r="1.62"/>
<circle class="cy" cx="384.0" cy="117.2" r="1.62"/>
<circle class="cp" cx="381.9" cy="119.8" r="1.62"/>
<circle class="cp" cx="385.0" cy="120.4" r="1.62"/>
<circle class="cy" cx="387.6" cy="119.8" r="1.62"/>
<circle class="cy" cx="390.2" cy="116.7" r="1.62"/>
<circle class="cy" cx="391.7" cy="118.3" r="1.62"/>
<circle class="cy" cx="395.9" cy="118.3" r="1.62"/>
<circle class="cp" cx="396.9" cy="116.7" r="1.62"/>
<circle class="cy" cx="400.5" cy="118.8" r="1.62"/>
<circle class="cp" cx="404.2" cy="119.8" r="1.62"/>
<circle class="cy" cx="406.8" cy="118.3" r="1.62"/>
<circle class="cy" cx="410.4" cy="117.8" r="1.62"/>
<circle class="cp" cx="410.9" cy="120.4" r="1.62"/>
<circle class="cy" cx="418.2" cy="120.4" r="1.62"/>
<circle class="cy" cx="420.7" cy="119.3" r="1.62"/>
<circle class="cp" cx="372.6" cy="123.5" r="1.62"/>
<circle class="cy" cx="375.1" cy="122.4" r="1.62"/>
<circle class="cy" cx="378.3" cy="124.0" r="1.62"/>
<circle class="cp" cx="382.4" cy="122.9" r="1.62"/>
<circle class="cy" cx="385.0" cy="124.5" r="1.62"/>
<circle class="cy" cx="388.1" cy="122.4" r="1.62"/>
<circle class="cp" cx="391.7" cy="122.4" r="1.62"/>
<circle class="cy" cx="394.8" cy="124.0" r="1.62"/>
<circle class="cp" cx="396.9" cy="122.9" r="1.62"/>
<circle class="cy" cx="399.5" cy="122.4" r="1.62"/>
<circle class="cy" cx="402.1" cy="123.5" r="1.62"/>
<circle class="cy" cx="404.7" cy="121.9" r="1.62"/>
<circle class="cy" cx="407.8" cy="123.5" r="1.62"/>
<circle class="cp" cx="410.4" cy="123.5" r="1.62"/>
<circle class="cy" cx="418.2" cy="123.5" r="1.62"/>
<circle class="cy" cx="421.8" cy="124.0" r="1.62"/>
<circle class="cy" cx="427.0" cy="121.9" r="1.62"/>
<circle class="cy" cx="424.9" cy="125.0" r="1.62"/>
<circle class="cp" cx="442.3" cy="115.7" r="1.62"/>
<circle class="cp" cx="431.9" cy="120.7" r="1.62"/>
<circle class="cp" cx="432.4" cy="123.5" r="1.62"/>
<circle class="cy" cx="437.3" cy="124.5" r="1.62"/>
<circle class="cy" cx="442.5" cy="123.8" r="1.62"/>
<circle class="cy" cx="451.8" cy="120.9" r="1.62"/>
<circle class="cy" cx="454.4" cy="123.2" r="1.62"/>
<circle class="cp" cx="471.7" cy="117.8" r="1.62"/>
<circle class="cy" cx="475.2" cy="121.4" r="1.62"/>
<circle class="cy" cx="349.8" cy="127.6" r="1.62"/>
<circle class="cy" cx="351.8" cy="130.1" r="1.62"/>
<circle class="cy" cx="353.9" cy="128.1" r="1.62"/>
<circle class="cp" cx="356.0" cy="126.5" r="1.62"/>
<circle class="cy" cx="353.9" cy="130.7" r="1.62"/>
<circle class="cy" cx="357.5" cy="132.2" r="1.62"/>
<circle class="cy" cx="359.6" cy="132.7" r="1.62"/>
<circle class="cp" cx="361.5" cy="130.1" r="1.62"/>
<circle class="cy" cx="363.7" cy="127.0" r="1.62"/>
<circle class="cy" cx="365.8" cy="129.1" r="1.62"/>
<circle class="cp" cx="367.9" cy="130.7" r="1.62"/>
<circle class="cp" cx="370.0" cy="130.7" r="1.62"/>
<circle class="cp" cx="366.9" cy="133.3" r="1.62"/>
<circle class="cy" cx="370.0" cy="133.8" r="1.62"/>
<circle class="cy" cx="358.0" cy="135.3" r="1.62"/>
<circle class="cp" cx="362.2" cy="135.3" r="1.62"/>
<circle class="cy" cx="364.8" cy="136.4" r="1.62"/>
<circle class="cy" cx="368.4" cy="135.8" r="1.62"/>
<circle class="cy" cx="359.6" cy="137.9" r="1.62"/>
<circle class="cy" cx="361.7" cy="138.4" r="1.62"/>
<circle class="cy" cx="367.9" cy="139.0" r="1.62"/>
<circle class="cy" cx="352.3" cy="136.9" r="1.62"/>
<circle class="cy" cx="326.4" cy="136.9" r="1.62"/>
<circle class="cy" cx="332.7" cy="136.4" r="1.62"/>
<circle class="cy" cx="333.7" cy="140.0" r="1.62"/>
<circle class="cy" cx="322.1" cy="143.6" r="1.62"/>
<circle class="cp" cx="332.7" cy="144.9" r="1.62"/>
<circle class="cy" cx="336.6" cy="143.8" r="1.62"/>
<circle class="cy" cx="341.2" cy="140.7" r="1.62"/>
<circle class="cp" cx="346.3" cy="140.3" r="1.62"/>
<circle class="cy" cx="356.0" cy="142.1" r="1.62"/>
<circle class="cy" cx="359.1" cy="142.1" r="1.62"/>
<circle class="cy" cx="365.8" cy="141.0" r="1.62"/>
<circle class="cy" cx="368.9" cy="141.0" r="1.62"/>
<circle class="cy" cx="344.1" cy="144.7" r="1.62"/>
<circle class="cp" cx="346.1" cy="145.2" r="1.62"/>
<circle class="cy" cx="349.2" cy="145.2" r="1.62"/>
<circle class="cp" cx="352.9" cy="145.7" r="1.62"/>
<circle class="cy" cx="340.4" cy="147.8" r="1.62"/>
<circle class="cy" cx="343.0" cy="147.2" r="1.62"/>
<circle class="cy" cx="352.9" cy="148.3" r="1.62"/>
<circle class="cy" cx="357.0" cy="146.7" r="1.62"/>
<circle class="cy" cx="358.0" cy="148.3" r="1.62"/>
<circle class="cy" cx="362.7" cy="145.2" r="1.62"/>
<circle class="cp" cx="364.8" cy="146.2" r="1.62"/>
<circle class="cy" cx="366.9" cy="145.2" r="1.62"/>
<circle class="cy" cx="361.7" cy="148.3" r="1.62"/>
<circle class="cy" cx="345.6" cy="151.1" r="1.62"/>
<circle class="cy" cx="352.9" cy="150.4" r="1.62"/>
<circle class="cp" cx="356.7" cy="151.4" r="1.62"/>
<circle class="cy" cx="361.7" cy="150.9" r="1.62"/>
<circle class="cp" cx="367.9" cy="151.4" r="1.62"/>
<circle class="cy" cx="370.0" cy="149.8" r="1.62"/>
<circle class="cy" cx="354.9" cy="155.0" r="1.62"/>
<circle class="cy" cx="370.5" cy="154.0" r="1.62"/>
<circle class="cy" cx="372.6" cy="128.1" r="1.62"/>
<circle class="cy" cx="376.2" cy="126.5" r="1.62"/>
<circle class="cp" cx="379.8" cy="128.6" r="1.62"/>
<circle class="cy" cx="383.4" cy="127.0" r="1.62"/>
<circle class="cy" cx="386.5" cy="128.1" r="1.62"/>
<circle class="cy" cx="390.2" cy="127.0" r="1.62"/>
<circle class="cy" cx="394.8" cy="128.6" r="1.62"/>
<circle class="cy" cx="399.0" cy="128.1" r="1.62"/>
<circle class="cy" cx="402.1" cy="126.5" r="1.62"/>
<circle class="cp" cx="405.7" cy="127.0" r="1.62"/>
<circle class="cp" cx="409.3" cy="129.6" r="1.62"/>
<circle class="cy" cx="412.5" cy="128.1" r="1.62"/>
<circle class="cp" cx="413.5" cy="129.1" r="1.62"/>
<circle class="cy" cx="418.2" cy="127.6" r="1.62"/>
<circle class="cy" cx="422.3" cy="128.6" r="1.62"/>
<circle class="cy" cx="425.9" cy="127.0" r="1.62"/>
<circle class="cp" cx="373.6" cy="132.2" r="1.62"/>
<circle class="cy" cx="377.2" cy="131.2" r="1.62"/>
<circle class="cp" cx="380.8" cy="133.8" r="1.62"/>
<circle class="cy" cx="384.0" cy="131.7" r="1.62"/>
<circle class="cp" cx="387.1" cy="130.7" r="1.62"/>
<circle class="cp" cx="390.7" cy="131.7" r="1.62"/>
<circle class="cy" cx="394.3" cy="133.3" r="1.62"/>
<circle class="cy" cx="398.0" cy="131.2" r="1.62"/>
<circle class="cp" cx="402.1" cy="131.7" r="1.62"/>
<circle class="cy" cx="405.7" cy="132.7" r="1.62"/>
<circle class="cy" cx="408.3" cy="134.3" r="1.62"/>
<circle class="cy" cx="411.9" cy="133.3" r="1.62"/>
<circle class="cy" cx="415.6" cy="133.8" r="1.62"/>
<circle class="cy" cx="418.7" cy="130.7" r="1.62"/>
<circle class="cy" cx="422.3" cy="131.7" r="1.62"/>
<circle class="cy" cx="424.9" cy="133.3" r="1.62"/>
<circle class="cy" cx="427.5" cy="131.2" r="1.62"/>
<circle class="cp" cx="373.1" cy="137.4" r="1.62"/>
<circle class="cy" cx="376.2" cy="135.8" r="1.62"/>
<circle class="cy" cx="379.3" cy="137.9" r="1.62"/>
<circle class="cp" cx="381.9" cy="139.0" r="1.62"/>
<circle class="cp" cx="384.5" cy="136.4" r="1.62"/>
<circle class="cy" cx="387.1" cy="137.9" r="1.62"/>
<circle class="cp" cx="391.2" cy="136.4" r="1.62"/>
<circle class="cy" cx="393.8" cy="138.4" r="1.62"/>
<circle class="cy" cx="396.9" cy="137.4" r="1.62"/>
<circle class="cy" cx="400.5" cy="135.8" r="1.62"/>
<circle class="cy" cx="402.1" cy="138.4" r="1.62"/>
<circle class="cp" cx="405.2" cy="136.9" r="1.62"/>
<circle class="cp" cx="407.8" cy="139.0" r="1.62"/>
<circle class="cp" cx="410.4" cy="138.4" r="1.62"/>
<circle class="cy" cx="414.0" cy="137.4" r="1.62"/>
<circle class="cy" cx="416.6" cy="136.4" r="1.62"/>
<circle class="cy" cx="419.2" cy="139.0" r="1.62"/>
<circle class="cy" cx="422.8" cy="137.4" r="1.62"/>
<circle class="cy" cx="427.0" cy="135.8" r="1.62"/>
<circle class="cy" cx="372.0" cy="141.5" r="1.62"/>
<circle class="cy" cx="375.1" cy="141.0" r="1.62"/>
<circle class="cy" cx="377.2" cy="143.6" r="1.62"/>
<circle class="cy" cx="380.8" cy="142.6" r="1.62"/>
<circle class="cy" cx="385.0" cy="141.0" r="1.62"/>
<circle class="cp" cx="386.0" cy="143.1" r="1.62"/>
<circle class="cp" cx="389.7" cy="141.5" r="1.62"/>
<circle class="cy" cx="392.2" cy="143.6" r="1.62"/>
<circle class="cp" cx="395.4" cy="142.1" r="1.62"/>
<circle class="cp" cx="398.5" cy="141.0" r="1.62"/>
<circle class="cy" cx="400.5" cy="143.6" r="1.62"/>
<circle class="cp" cx="402.6" cy="141.5" r="1.62"/>
<circle class="cp" cx="405.7" cy="142.1" r="1.62"/>
<circle class="cy" cx="408.3" cy="141.0" r="1.62"/>
<circle class="cp" cx="411.4" cy="142.6" r="1.62"/>
<circle class="cy" cx="415.6" cy="141.5" r="1.62"/>
<circle class="cy" cx="418.7" cy="143.1" r="1.62"/>
<circle class="cy" cx="421.8" cy="142.1" r="1.62"/>
<circle class="cy" cx="425.4" cy="141.5" r="1.62"/>
<circle class="cy" cx="374.1" cy="144.7" r="1.62"/>
<circle class="cp" cx="395.4" cy="144.7" r="1.62"/>
<circle class="cp" cx="404.2" cy="144.7" r="1.62"/>
<circle class="cp" cx="371.5" cy="145.7" r="1.62"/>
<circle class="cy" cx="375.1" cy="147.2" r="1.62"/>
<circle class="cy" cx="378.8" cy="146.2" r="1.62"/>
<circle class="cp" cx="381.9" cy="146.7" r="1.62"/>
<circle class="cy" cx="384.5" cy="145.7" r="1.62"/>
<circle class="cy" cx="387.6" cy="147.2" r="1.62"/>
<circle class="cp" cx="390.2" cy="146.2" r="1.62"/>
<circle class="cy" cx="393.3" cy="147.8" r="1.62"/>
<circle class="cy" cx="396.9" cy="146.7" r="1.62"/>
<circle class="cp" cx="400.5" cy="146.2" r="1.62"/>
<circle class="cp" cx="403.6" cy="147.8" r="1.62"/>
<circle class="cp" cx="407.3" cy="146.7" r="1.62"/>
<circle class="cp" cx="410.4" cy="147.8" r="1.62"/>
<circle class="cy" cx="413.5" cy="146.7" r="1.62"/>
<circle class="cy" cx="416.6" cy="147.8" r="1.62"/>
<circle class="cp" cx="419.7" cy="146.2" r="1.62"/>
<circle class="cy" cx="423.3" cy="146.7" r="1.62"/>
<circle class="cy" cx="425.9" cy="147.8" r="1.62"/>
<circle class="cp" cx="373.1" cy="149.8" r="1.62"/>
<circle class="cy" cx="396.9" cy="149.3" r="1.62"/>
<circle class="cp" cx="414.0" cy="149.3" r="1.62"/>
<circle class="cy" cx="372.6" cy="152.9" r="1.62"/>
<circle class="cy" cx="377.7" cy="151.4" r="1.62"/>
<circle class="cp" cx="380.8" cy="152.4" r="1.62"/>
<circle class="cy" cx="384.5" cy="151.9" r="1.62"/>
<circle class="cp" cx="386.0" cy="154.5" r="1.62"/>
<circle class="cy" cx="389.1" cy="153.5" r="1.62"/>
<circle class="cp" cx="392.8" cy="150.9" r="1.62"/>
<circle class="cy" cx="395.9" cy="152.4" r="1.62"/>
<circle class="cp" cx="398.5" cy="154.0" r="1.62"/>
<circle class="cy" cx="401.1" cy="152.4" r="1.62"/>
<circle class="cy" cx="404.7" cy="151.4" r="1.62"/>
<circle class="cy" cx="406.8" cy="153.5" r="1.62"/>
<circle class="cp" cx="409.9" cy="151.4" r="1.62"/>
<circle class="cp" cx="413.5" cy="154.0" r="1.62"/>
<circle class="cy" cx="416.6" cy="151.9" r="1.62"/>
<circle class="cp" cx="418.2" cy="154.5" r="1.62"/>
<circle class="cp" cx="421.8" cy="154.0" r="1.62"/>
<circle class="cy" cx="424.9" cy="152.4" r="1.62"/>
<circle class="cy" cx="372.0" cy="155.0" r="1.62"/>
<circle class="cy" cx="382.4" cy="155.0" r="1.62"/>
<circle class="cy" cx="394.8" cy="155.0" r="1.62"/>
<circle class="cy" cx="437.8" cy="126.5" r="1.62"/>
<circle class="cp" cx="439.4" cy="128.6" r="1.62"/>
<circle class="cp" cx="430.1" cy="132.2" r="1.62"/>
<circle class="cy" cx="434.2" cy="132.7" r="1.62"/>
<circle class="cy" cx="436.8" cy="130.7" r="1.62"/>
<circle class="cy" cx="437.3" cy="133.3" r="1.62"/>
<circle class="cy" cx="441.0" cy="130.7" r="1.62"/>
<circle class="cp" cx="439.4" cy="135.8" r="1.62"/>
<circle class="cy" cx="436.3" cy="137.9" r="1.62"/>
<circle class="cp" cx="434.7" cy="140.5" r="1.62"/>
<circle class="cy" cx="431.6" cy="142.1" r="1.62"/>
<circle class="cy" cx="435.8" cy="144.1" r="1.62"/>
<circle class="cp" cx="438.4" cy="143.8" r="1.62"/>
<circle class="cp" cx="442.0" cy="142.6" r="1.62"/>
<circle class="cy" cx="443.5" cy="144.7" r="1.62"/>
<circle class="cy" cx="444.6" cy="140.5" r="1.62"/>
<circle class="cy" cx="444.1" cy="135.3" r="1.62"/>
<circle class="cy" cx="443.5" cy="137.4" r="1.62"/>
<circle class="cy" cx="446.7" cy="136.4" r="1.62"/>
<circle class="cy" cx="448.7" cy="137.4" r="1.62"/>
<circle class="cy" cx="450.3" cy="136.9" r="1.62"/>
<circle class="cy" cx="451.0" cy="139.5" r="1.62"/>
<circle class="cp" cx="436.8" cy="148.3" r="1.62"/>
<circle class="cp" cx="450.6" cy="145.5" r="1.62"/>
<circle class="cp" cx="453.9" cy="144.4" r="1.62"/>
<circle class="cy" cx="455.5" cy="142.4" r="1.62"/>
<circle class="cp" cx="458.8" cy="150.6" r="1.62"/>
<circle class="cy" cx="462.2" cy="142.1" r="1.62"/>
<circle class="cp" cx="463.8" cy="137.9" r="1.62"/>
<circle class="cy" cx="467.9" cy="129.6" r="1.62"/>
<circle class="cy" cx="467.9" cy="134.8" r="1.62"/>
<circle class="cp" cx="472.8" cy="139.5" r="1.62"/>
<circle class="cy" cx="471.0" cy="141.8" r="1.62"/>
<circle class="cy" cx="476.9" cy="141.5" r="1.62"/>
<circle class="cy" cx="480.1" cy="131.9" r="1.62"/>
<circle class="cp" cx="429.0" cy="155.0" r="1.62"/>
<circle class="cy" cx="434.2" cy="155.5" r="1.62"/>
<circle class="cp" cx="448.4" cy="157.7" r="1.62"/>
<circle class="cy" cx="465.0" cy="161.6" r="1.62"/>
<circle class="cp" cx="440.5" cy="165.8" r="1.62"/>
<circle class="cy" cx="435.7" cy="169.5" r="1.62"/>
<circle class="cy" cx="428.6" cy="171.6" r="1.62"/>
<circle class="cy" cx="449.4" cy="175.8" r="1.62"/>
<circle class="cy" cx="446.3" cy="183.7" r="1.62"/>
<circle class="cy" cx="437.4" cy="186.8" r="1.62"/>
<circle class="cy" cx="428.6" cy="197.0" r="1.62"/>
<circle class="cy" cx="460.7" cy="212.2" r="1.62"/>
<circle class="cy" cx="352.6" cy="158.9" r="1.62"/>
<circle class="cy" cx="366.3" cy="160.7" r="1.62"/>
<circle class="cp" cx="367.4" cy="160.7" r="1.62"/>
<circle class="cy" cx="357.5" cy="172.6" r="1.62"/>
<circle class="cy" cx="382.9" cy="157.0" r="1.62"/>
<circle class="cy" cx="387.1" cy="156.5" r="1.62"/>
<circle class="cp" cx="400.0" cy="157.0" r="1.62"/>
<circle class="cy" cx="407.8" cy="156.5" r="1.62"/>
<circle class="cp" cx="413.3" cy="158.6" r="1.62"/>
<circle class="cp" cx="413.5" cy="156.5" r="1.62"/>
<circle class="cp" cx="421.6" cy="157.0" r="1.62"/>
<circle class="cp" cx="422.6" cy="160.4" r="1.62"/>
<circle class="cp" cx="390.7" cy="161.7" r="1.62"/>
<circle class="cp" cx="393.0" cy="160.1" r="1.62"/>
<circle class="cy" cx="377.7" cy="163.8" r="1.62"/>
<circle class="cp" cx="378.3" cy="165.6" r="1.62"/>
<circle class="cp" cx="389.7" cy="169.7" r="1.62"/>
<circle class="cp" cx="390.5" cy="171.0" r="1.62"/>
<circle class="cy" cx="380.1" cy="171.5" r="1.62"/>
<circle class="cy" cx="426.4" cy="172.8" r="1.62"/>
<circle class="cy" cx="404.0" cy="180.6" r="1.62"/>
<circle class="cy" cx="410.4" cy="181.9" r="1.62"/>
<circle class="cy" cx="405.5" cy="194.5" r="1.62"/>
<circle class="cy" cx="399.7" cy="204.1" r="1.62"/>
<circle class="cy" cx="414.3" cy="199.1" r="1.62"/>
<circle class="cy" cx="443.0" cy="218.7" r="1.62"/>
<circle class="cy" cx="458.8" cy="220.7" r="1.62"/>
<circle class="cy" cx="433.0" cy="232.2" r="1.62"/>
<circle class="cy" cx="476.3" cy="228.4" r="1.62"/>
<circle class="cy" cx="479.0" cy="231.1" r="1.62"/>
<circle class="cy" cx="483.1" cy="223.4" r="1.62"/>
<circle class="cy" cx="493.9" cy="224.5" r="1.62"/>
<circle class="cy" cx="493.9" cy="228.0" r="1.62"/>
</g>
</svg>
</body></html>
